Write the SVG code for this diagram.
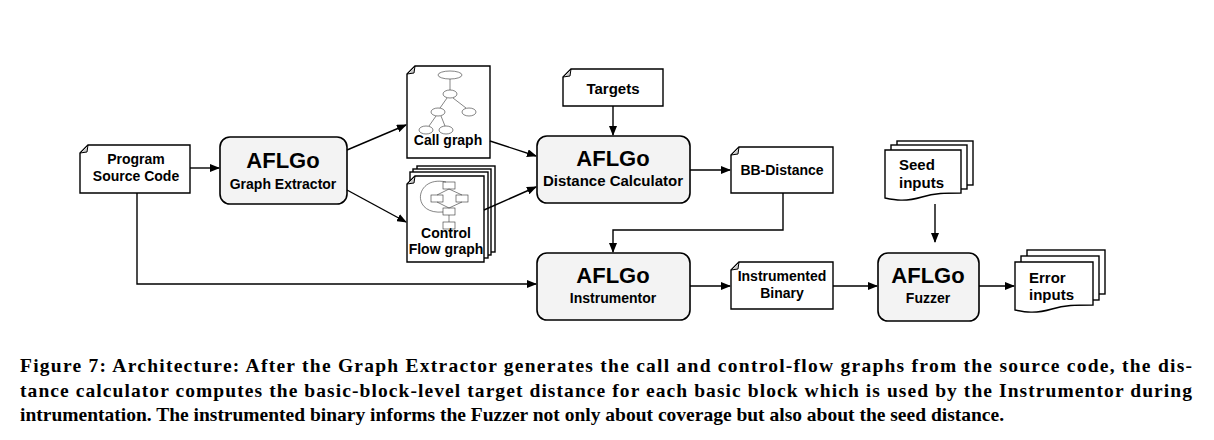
<svg xmlns="http://www.w3.org/2000/svg" width="1214" height="440" viewBox="0 0 1214 440">
<defs>
<marker id="ah" markerWidth="10" markerHeight="8" refX="9" refY="4" orient="auto" markerUnits="userSpaceOnUse"><path d="M0,0 L10,4 L0,8 z" fill="#000"/></marker>
<style>
.box{fill:#f3f3f3;stroke:#000;stroke-width:1.6}
.doc{fill:#fff;stroke:#000;stroke-width:1.4}
.fold{fill:#ccc;stroke:#000;stroke-width:1}
.c{stroke:#000;stroke-width:1.4;fill:none;marker-end:url(#ah)}
.t{font-family:"Liberation Sans",Arial,sans-serif;font-weight:bold;fill:#000;text-anchor:middle}
.big{font-size:22px}.sm{font-size:14px}.md{font-size:15px}
.g{stroke:#333;stroke-width:0.6;fill:#fff}
.cap{font-family:"Liberation Serif","Times New Roman",serif;font-weight:bold;font-size:19.5px;fill:#000}
</style>
</defs>
<rect width="1214" height="440" fill="#fff"/>
<g id="psc"><path class="doc" d="M88,145 H190 V193 H80 V153 Z"/><path class="fold" d="M80,153 L88,145 L87,152 Z"/><text class="t sm" x="136" y="164">Program</text><text class="t sm" x="136" y="181">Source Code</text></g>
<g id="ge"><rect class="box" x="220" y="137" width="127" height="67" rx="10"/><text class="t big" x="283" y="168">AFLGo</text><text class="t sm" x="283" y="189">Graph Extractor</text></g>
<g id="callgraph"><path class="doc" d="M415,66 H490 V158 H407 V74 Z"/><path class="fold" d="M407,74 L415,66 L414,73 Z"/>
<ellipse class="g" cx="450" cy="75" rx="12" ry="4"/><ellipse class="g" cx="450" cy="94" rx="7" ry="4"/><ellipse class="g" cx="438" cy="112" rx="7" ry="4"/><ellipse class="g" cx="469" cy="112" rx="7" ry="4"/><ellipse class="g" cx="426" cy="130" rx="7" ry="4"/><ellipse class="g" cx="446" cy="130" rx="7" ry="4"/>
<path d="M450,79V90M447,98L440,108M453,98L466,108M436,116L429,126M441,116L445,126" stroke="#333" stroke-width="0.6"/>
<text class="t sm" x="448" y="145">Call graph</text></g>
<g id="cfg"><rect class="doc" x="417" y="166" width="78" height="86"/><rect class="doc" x="413" y="169" width="78" height="86"/><rect class="doc" x="410" y="172" width="78" height="86"/><path class="doc" d="M415,176 H484 V262 H407 V184 Z"/><path class="fold" d="M407,184 L415,176 L414,183 Z"/>
<g class="g"><rect x="443" y="182" width="12" height="7"/><rect x="431" y="195" width="12" height="7"/><rect x="456" y="195" width="12" height="7"/><rect x="443" y="208" width="12" height="7"/><rect x="443" y="222" width="12" height="7"/><path d="M449,189L437,195M449,189L462,195M437,202L449,208M462,202L449,208M449,215V222M443,212C410,215 415,175 446,182" fill="none"/></g>
<text class="t sm" x="446" y="238">Control</text><text class="t sm" x="446" y="254">Flow graph</text></g>
<g id="targets"><path class="doc" d="M571,69 H663 V106 H563 V77 Z"/><path class="fold" d="M563,77 L571,69 L570,76 Z"/><text class="t md" x="613" y="94">Targets</text></g>
<g id="dc"><rect class="box" x="537" y="136" width="153" height="67" rx="10"/><text class="t big" x="613" y="166">AFLGo</text><text class="t md" x="613" y="186">Distance Calculator</text></g>
<g id="bbd"><path class="doc" d="M739,147 H833 V193 H731 V155 Z"/><path class="fold" d="M731,155 L739,147 L738,154 Z"/><text class="t sm" x="782" y="175">BB-Distance</text></g>
<g id="instr"><rect class="box" x="537" y="253" width="153" height="67" rx="10"/><text class="t big" x="613" y="283">AFLGo</text><text class="t sm" x="613" y="303">Instrumentor</text></g>
<g id="ib"><path class="doc" d="M739,262 H833 V309 H731 V270 Z"/><path class="fold" d="M731,270 L739,262 L738,269 Z"/><text class="t sm" x="782" y="281">Instrumented</text><text class="t sm" x="782" y="298">Binary</text></g>
<g id="fuzzer"><rect class="box" x="878" y="253" width="101" height="68" rx="10"/><text class="t big" x="928" y="283">AFLGo</text><text class="t sm" x="928" y="303">Fuzzer</text></g>
<g id="seed"><rect class="doc" x="897" y="141" width="76" height="44"/><rect class="doc" x="891" y="145" width="76" height="44"/><path class="doc" d="M885,150 H961 V193 C945,193 935,193 922,197 C905,202 895,200 885,198 Z"/><text class="t md" x="899" y="170" style="text-anchor:start">Seed</text><text class="t md" x="899" y="188" style="text-anchor:start">inputs</text></g>
<g id="err"><rect class="doc" x="1027" y="250" width="78" height="44"/><rect class="doc" x="1021" y="256" width="78" height="44"/><path class="doc" d="M1015,262 H1093 V305 C1075,305 1065,305 1052,309 C1035,314 1025,312 1015,310 Z"/><text class="t md" x="1029" y="283" style="text-anchor:start">Error</text><text class="t md" x="1029" y="300" style="text-anchor:start">inputs</text></g>
<g id="connectors">
<path class="c" d="M190,168H219"/>
<path class="c" d="M347,150L406,125"/>
<path class="c" d="M347,190L406,222"/>
<path class="c" d="M490,141L536,156"/>
<path class="c" d="M484,210L536,187"/>
<path class="c" d="M613,106V135"/>
<path class="c" d="M690,170H730"/>
<path class="c" d="M783,193V230H613V252"/>
<path class="c" d="M137,193V284H536"/>
<path class="c" d="M690,286H730"/>
<path class="c" d="M833,286H877"/>
<path class="c" d="M935,204V242"/>
<path class="c" d="M979,286H1014"/>
</g>
<text class="cap" x="20" y="372" textLength="1172" lengthAdjust="spacing">Figure 7: Architecture: After the Graph Extractor generates the call and control-flow graphs from the source code, the dis-</text>
<text class="cap" x="20" y="397" textLength="1172" lengthAdjust="spacing">tance calculator computes the basic-block-level target distance for each basic block which is used by the Instrumentor during</text>
<text class="cap" x="20" y="421">intrumentation. The instrumented binary informs the Fuzzer not only about coverage but also about the seed distance.</text>
</svg>
